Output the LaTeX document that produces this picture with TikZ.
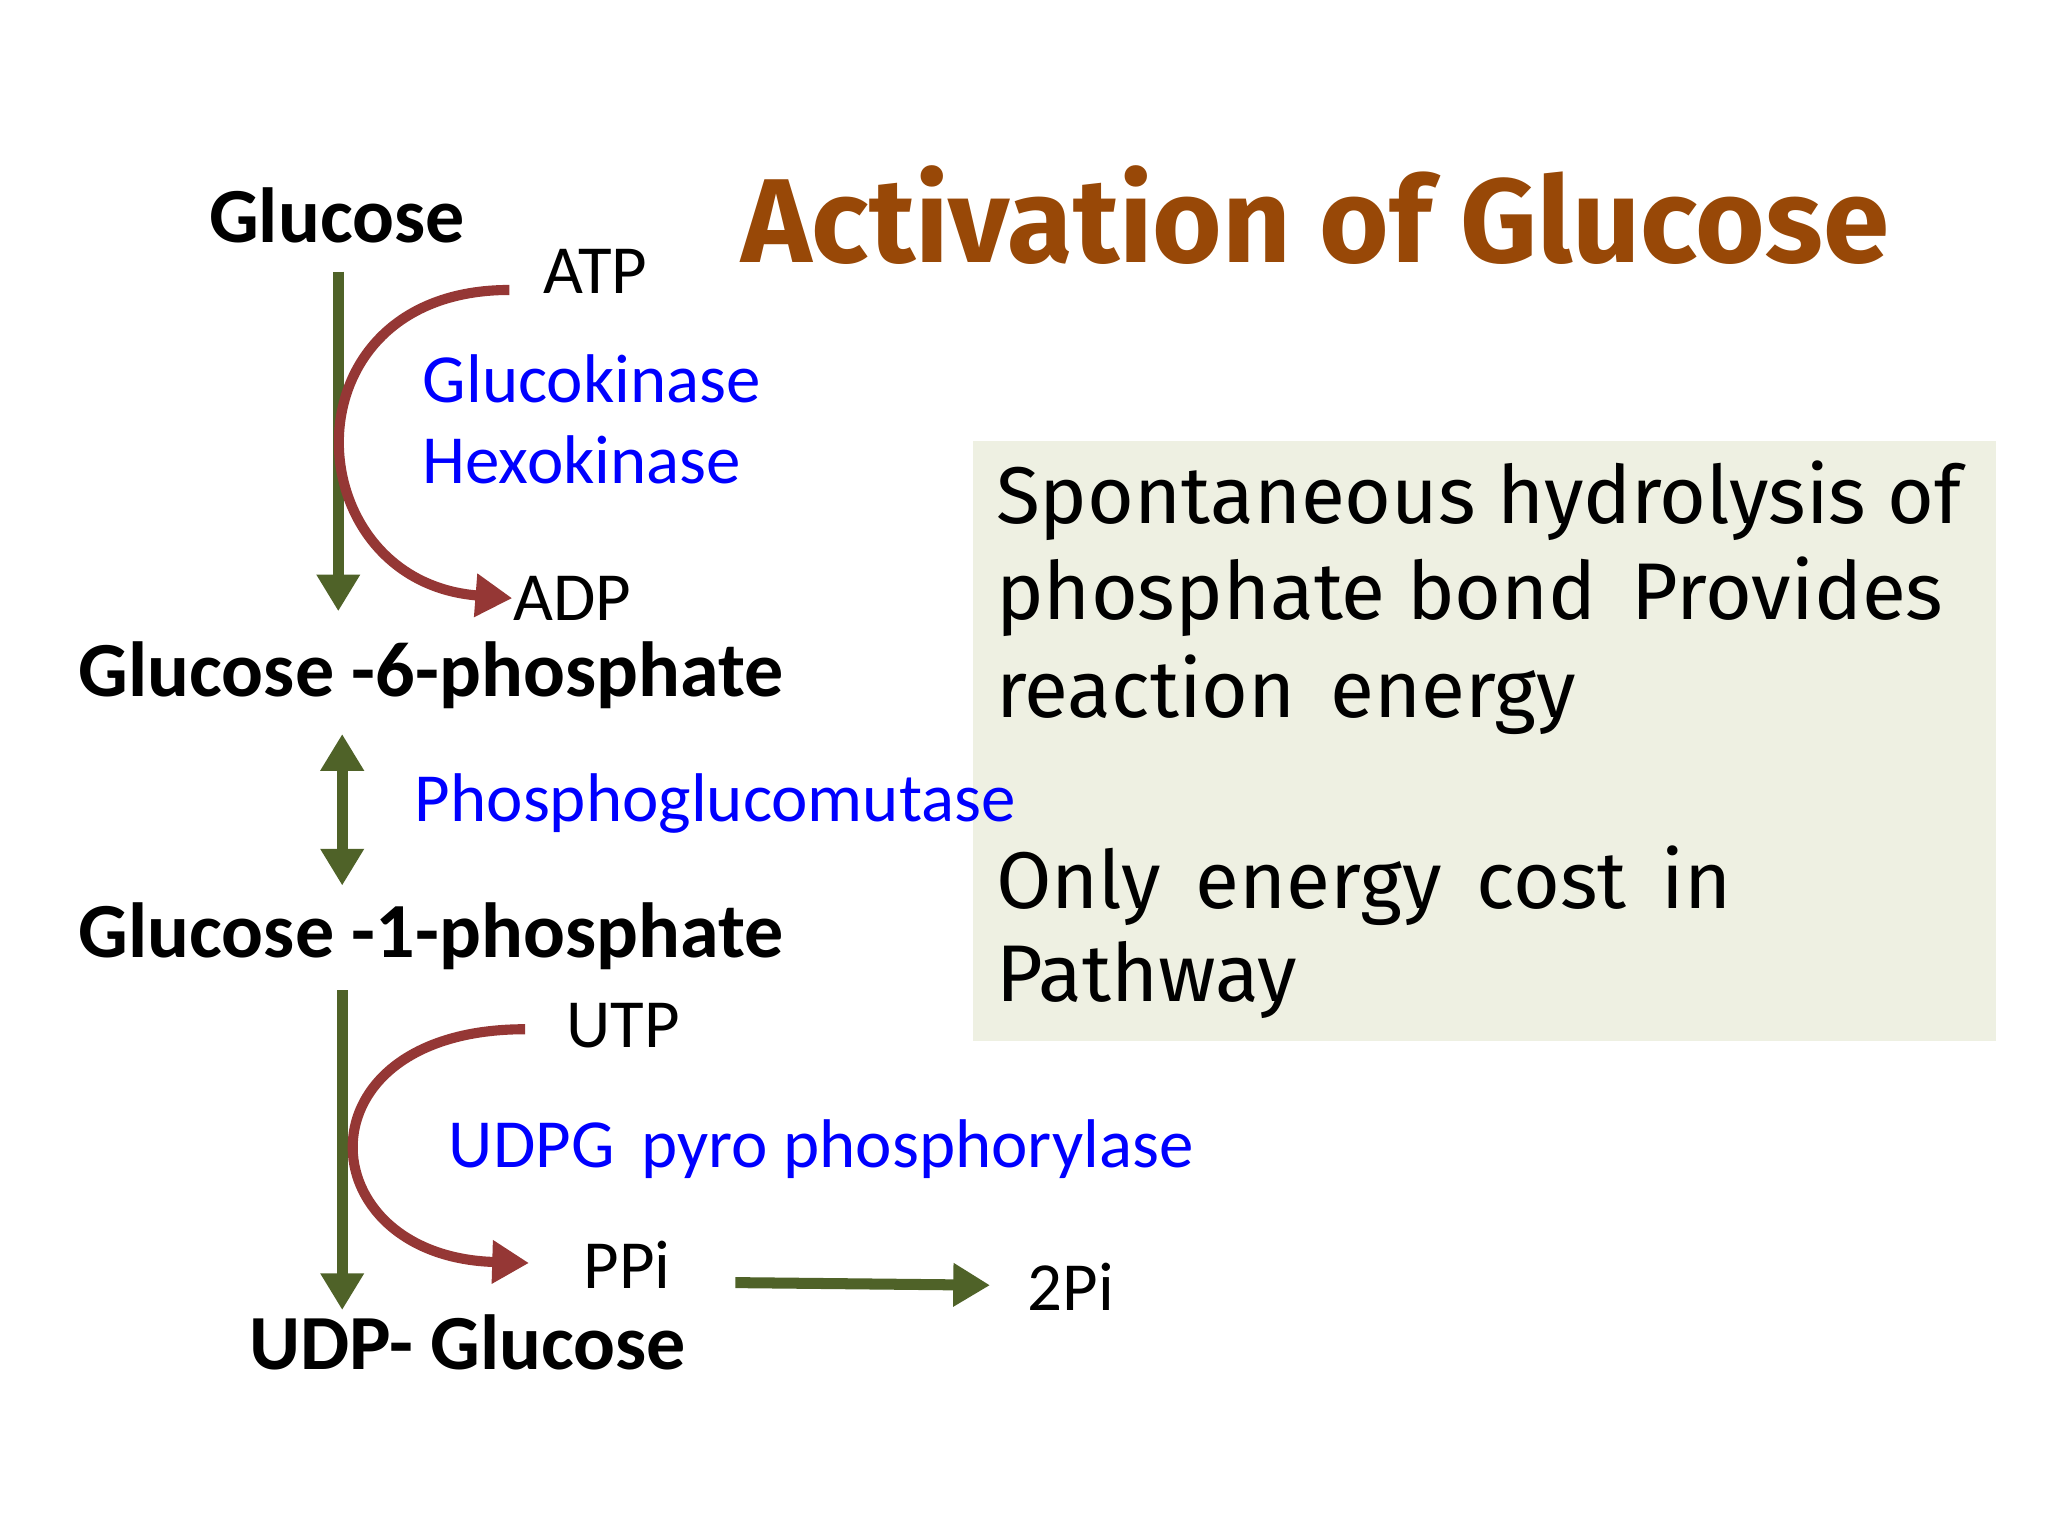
\documentclass[tikz,border=0pt]{standalone}
\usepackage{fontspec}
\setmainfont{Carlito}
\newfontfamily\handfont{Fira Sans}
\usetikzlibrary{positioning,arrows.meta}
\definecolor{pathgreen}{HTML}{4F6228}
\definecolor{cofred}{HTML}{953735}
\definecolor{titlebrown}{HTML}{984807}
\definecolor{boxfill}{HTML}{EEF0E2}
\tikzset{
    metab/.style={font=\fontsize{17}{20}\selectfont\bfseries, inner sep=0pt},
    cofac/.style={font=\fontsize{15}{18}\selectfont, inner sep=0pt},
    enzyme/.style={font=\fontsize{15}{18}\selectfont, text=blue, inner sep=0pt, anchor=west},
    boxline/.style={font=\handfont\fontsize{17.5}{21}\selectfont, inner sep=0pt, anchor=west},
    mainarrow/.style={pathgreen, line width=2.4pt, -{Triangle[length=8pt,width=9pt]}},
    cofarrow/.style={cofred, line width=2.2pt, -{Triangle[length=8pt,width=9pt]}}
}
\begin{document}
\begin{tikzpicture}[x=0.01cm, y=-0.01cm]
    \useasboundingbox (0,0) rectangle (1568,1176);

    % side box
    \fill[boxfill] (745,338) rectangle (1528,797);

    \node[font=\handfont\fontsize{26}{30}\selectfont\bfseries, text=titlebrown] (title) at (1007,165) {Activation of Glucose};

    % metabolites
    \node[metab] (glc) at (258,165) {Glucose};
    \node[metab] (g6p) at (330,517) {Glucose -6-phosphate};
    \node[metab] (g1p) at (330,717) {Glucose -1-phosphate};
    \node[metab] (udpg) at (358,1028) {UDP- Glucose};

    \node[cofac] (atp) at (456,208) {ATP};
    \node[cofac] (adp) at (438,458) {ADP};
    \node[cofac] (utp) at (477,785) {UTP};
    \node[cofac] (ppi) at (480,968) {PPi};
    \node[cofac] (pi) at (820,985) {2Pi};
    \coordinate (pitip) at (758,984);

    \node[enzyme] (gk) at (323,290) {Glucokinase};
    \node[enzyme] (hk) at (323,352) {Hexokinase};
    \node[enzyme] (pgm) at (317,615) {Phosphoglucomutase};
    \node[enzyme] (udpgpp) at (343,880) {UDPG\, pyro phosphorylase};

    % main path
    \draw[mainarrow] (259,208) -- (259,468);
    \draw[pathgreen, line width=2.4pt, {Triangle[length=8pt,width=9pt]}-{Triangle[length=8pt,width=9pt]}] (262,562) -- (262,678);
    \draw[mainarrow] (262,758) -- (262,1003);
    \draw[mainarrow] (563,982) -- (pitip);

    % cofactor curves
    \draw[cofarrow] (390,222) .. controls (215,222) and (225,445) .. (adp.west);
    \draw[cofarrow] (402,788) .. controls (225,788) and (235,962) .. (405,967);

    % box text
    \node[boxline] (l1) at (762,383) {Spontaneous hydrolysis of};
    \node[boxline] (l2) at (762,457) {phosphate bond\, Provides};
    \node[boxline] (l3) at (762,532) {reaction\, energy};
    \node[boxline] (l4) at (762,678) {Only\, energy\, cost\, in};
    \node[boxline] (l5) at (762,750) {Pathway};
\end{tikzpicture}
\end{document}
